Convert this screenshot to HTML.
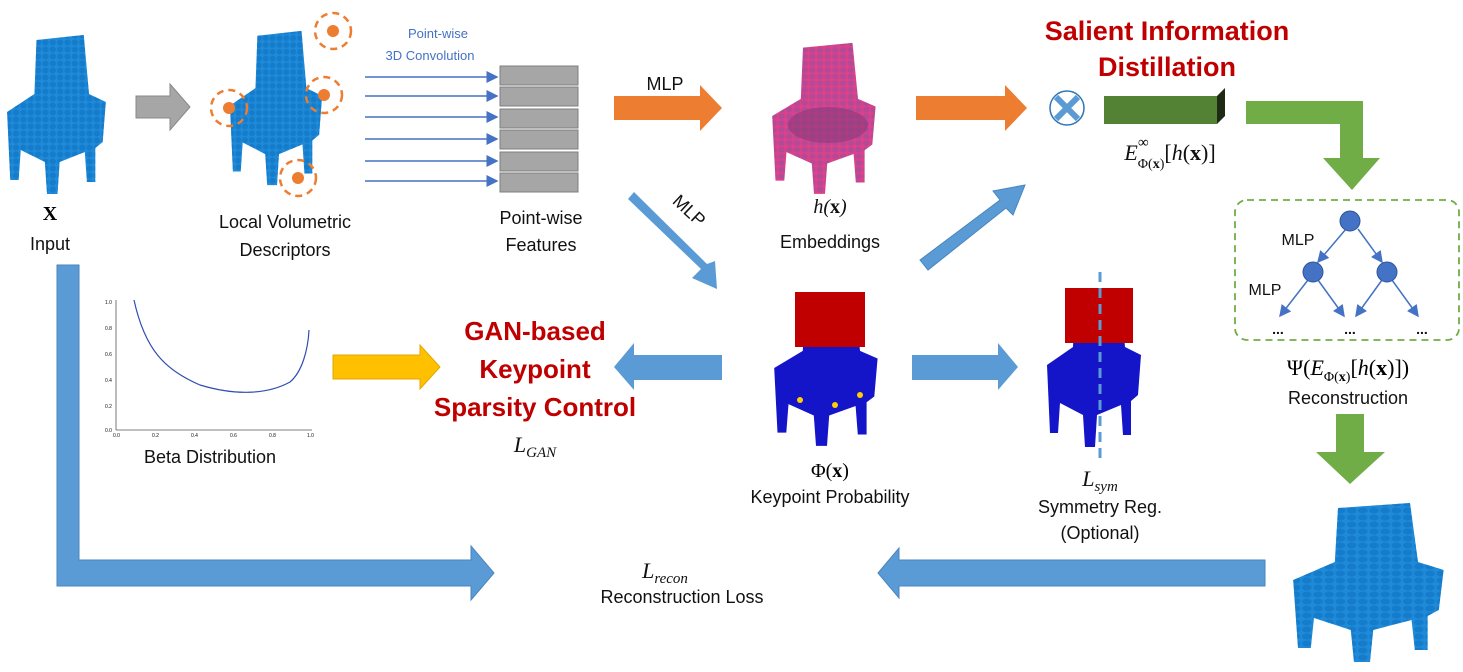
<!DOCTYPE html>
<html><head><meta charset="utf-8"><style>
html,body{margin:0;padding:0;background:#fff;}
svg{display:block}
.s{font-family:"Liberation Sans",sans-serif;fill:#111;}
.m{font-family:"Liberation Serif",serif;fill:#111;font-style:italic}
.r{font-family:"Liberation Sans",sans-serif;fill:#c00000;font-weight:bold}
</style></head><body>
<svg width="1463" height="672" viewBox="0 0 1463 672" xmlns="http://www.w3.org/2000/svg">
<defs>
<path id="chair" d="M30,8 L75,3 L80,62 L96,70 L93,110 L86,116 L86,150 L78,150 L76,120 L52,130 L50,162 L40,162 L38,130 L15,118 L13,148 L5,148 L2,80 L28,62 Z"/>
<pattern id="dots" width="7" height="7" patternUnits="userSpaceOnUse"><circle cx="3.5" cy="3.5" r="3" fill="#0d6fc0" opacity="0.55"/></pattern>
<marker id="ah" markerWidth="8" markerHeight="8" refX="7" refY="4" orient="auto"><path d="M0,0 L8,4 L0,8 Z" fill="#4472c4"/></marker>
</defs>

<g transform="translate(5,32) scale(1.05,1.0)"><use href="#chair" fill="#1e8ad8"/><use href="#chair" fill="url(#dots)"/></g>
<path d="M136,96 L170,96 L170,84 L190,107 L170,130 L170,118 L136,118 Z" fill="#a6a6a6" stroke="#888" stroke-width="1"/>
<g transform="translate(228,28) scale(0.98,0.97)"><use href="#chair" fill="#1e8ad8"/><use href="#chair" fill="url(#dots)"/></g>
<g fill="#ed7d31"><circle cx="229" cy="108" r="6"/><circle cx="333" cy="31" r="6"/><circle cx="324" cy="95" r="6"/><circle cx="298" cy="178" r="6"/></g>
<g fill="none" stroke="#ed7d31" stroke-width="2.5" stroke-dasharray="7,5"><circle cx="229" cy="108" r="18"/><circle cx="333" cy="31" r="18"/><circle cx="324" cy="95" r="18"/><circle cx="298" cy="178" r="18"/></g>
<text x="438" y="38" class="s" font-size="13" style="fill:#4472c4" text-anchor="middle">Point-wise</text>
<text x="430" y="60" class="s" font-size="13" style="fill:#4472c4" text-anchor="middle">3D Convolution</text>
<g stroke="#4472c4" stroke-width="1.5" marker-end="url(#ah)">
<line x1="365" y1="77" x2="497" y2="77"/><line x1="365" y1="96" x2="497" y2="96"/><line x1="365" y1="117" x2="497" y2="117"/><line x1="365" y1="139" x2="497" y2="139"/><line x1="365" y1="161" x2="497" y2="161"/><line x1="365" y1="181" x2="497" y2="181"/>
</g>
<g fill="#a6a6a6" stroke="#7f7f7f" stroke-width="1">
<rect x="500" y="66" width="78" height="19"/><rect x="500" y="87" width="78" height="19"/><rect x="500" y="109" width="78" height="19"/><rect x="500" y="130" width="78" height="19"/><rect x="500" y="152" width="78" height="19"/><rect x="500" y="173" width="78" height="19"/>
</g>
<text x="50" y="220" font-family="Liberation Serif,serif" font-weight="bold" font-size="20" text-anchor="middle">X</text>
<text x="50" y="250" class="s" font-size="18" text-anchor="middle">Input</text>
<text x="285" y="228" class="s" font-size="18" text-anchor="middle">Local Volumetric</text>
<text x="285" y="256" class="s" font-size="18" text-anchor="middle">Descriptors</text>
<text x="541" y="224" class="s" font-size="18" text-anchor="middle">Point-wise</text>
<text x="541" y="251" class="s" font-size="18" text-anchor="middle">Features</text>
<text x="665" y="90" class="s" font-size="18" text-anchor="middle">MLP</text>
<path d="M614,96 L700,96 L700,85 L722,108 L700,131 L700,120 L614,120 Z" fill="#ed7d31"/>
<text x="685" y="215" class="s" font-size="18" text-anchor="middle" transform="rotate(43 685 215)">MLP</text>
<path d="M633,196 L706,266 L697,275 L722,286 L720,258 L712,261 L639,189 Z" fill="#5b9bd5" transform="translate(-5,3)"/>
<g transform="translate(770,40) scale(1.1,0.95)"><use href="#chair" fill="#e0408a"/><use href="#chair" fill="url(#dots)" opacity="0.4"/></g>
<ellipse cx="828" cy="125" rx="40" ry="18" fill="#8a3a7a" opacity="0.6"/>
<text x="830" y="213" class="m" font-size="20" text-anchor="middle">h(<tspan font-weight="bold" font-style="normal">x</tspan>)</text>
<text x="830" y="248" class="s" font-size="18" text-anchor="middle">Embeddings</text>
<path d="M916,96 L1005,96 L1005,85 L1027,108 L1005,131 L1005,120 L916,120 Z" fill="#ed7d31"/>
<circle cx="1067" cy="108" r="17" fill="#fff" stroke="#2e75b6" stroke-width="1.5"/>
<path d="M1056,97 L1078,119 M1078,97 L1056,119" stroke="#5b9bd5" stroke-width="6"/>
<text x="1167" y="40" class="r" font-size="27" text-anchor="middle">Salient Information</text>
<text x="1167" y="76" class="r" font-size="27" text-anchor="middle">Distillation</text>
<rect x="1104" y="96" width="113" height="28" fill="#548235"/>
<path d="M1217,96 L1225,88 L1225,116 L1217,124 Z" fill="#1e2a14"/>
<text x="1170" y="160" class="m" font-size="22" text-anchor="middle">E<tspan font-size="14" dy="8" font-style="normal">Φ(<tspan font-weight="bold">x</tspan>)</tspan><tspan dy="-8" font-style="normal">[</tspan>h<tspan font-style="normal">(<tspan font-weight="bold">x</tspan>)]</tspan></text>
<text x="1138" y="147" font-family="Liberation Serif,serif" font-size="15">∞</text>
<path d="M1246,101 L1363,101 L1363,158 L1380,158 L1352,190 L1323,158 L1340,158 L1340,124 L1246,124 Z" fill="#70ad47"/>
<rect x="1235" y="200" width="224" height="140" rx="12" fill="none" stroke="#70ad47" stroke-width="1.8" stroke-dasharray="7,5"/>
<g stroke="#4472c4" stroke-width="1.5" marker-end="url(#ah)">
<line x1="1346" y1="229" x2="1318" y2="262"/><line x1="1358" y1="229" x2="1382" y2="262"/>
<line x1="1308" y1="280" x2="1280" y2="316"/><line x1="1318" y1="280" x2="1344" y2="316"/>
<line x1="1382" y1="280" x2="1356" y2="316"/><line x1="1392" y1="280" x2="1418" y2="316"/>
</g>
<g fill="#4472c4" stroke="#2f5597"><circle cx="1350" cy="221" r="10"/><circle cx="1313" cy="272" r="10"/><circle cx="1387" cy="272" r="10"/></g>
<text x="1298" y="245" class="s" font-size="16" text-anchor="middle">MLP</text>
<text x="1265" y="295" class="s" font-size="16" text-anchor="middle">MLP</text>
<g class="s" font-size="14" font-weight="bold" text-anchor="middle"><text x="1278" y="334">...</text><text x="1350" y="334">...</text><text x="1422" y="334">...</text></g>
<text x="1348" y="375" font-family="Liberation Serif,serif" font-size="22" text-anchor="middle">Ψ(<tspan font-style="italic">E</tspan><tspan font-size="14" dy="6">Φ(<tspan font-weight="bold">x</tspan>)</tspan><tspan dy="-6">[<tspan font-style="italic">h</tspan>(<tspan font-weight="bold">x</tspan>)])</tspan></text>
<text x="1348" y="404" class="s" font-size="18" text-anchor="middle">Reconstruction</text>
<path d="M1336,414 L1364,414 L1364,452 L1385,452 L1350,484 L1316,452 L1336,452 Z" fill="#70ad47"/>
<g transform="translate(1290,500) scale(1.6,1.0)"><use href="#chair" fill="#1e8ad8"/><use href="#chair" fill="url(#dots)"/></g>
<path d="M920,260 L1000,200 L993,191 L1025,185 L1013,215 L1006,208 L928,270 Z" fill="#5b9bd5" stroke="#4a86c0" stroke-width="1"/>
<g stroke="#555" stroke-width="0.8" fill="none"><line x1="116" y1="300" x2="116" y2="430"/><line x1="116" y1="430" x2="312" y2="430"/></g>
<g class="s" font-size="5" fill="#555">
<text x="105" y="304">1.0</text><text x="105" y="330">0.8</text><text x="105" y="356">0.6</text><text x="105" y="382">0.4</text><text x="105" y="408">0.2</text><text x="105" y="432">0.0</text>
<text x="113" y="437">0.0</text><text x="152" y="437">0.2</text><text x="191" y="437">0.4</text><text x="230" y="437">0.6</text><text x="269" y="437">0.8</text><text x="307" y="437">1.0</text></g>
<path d="M134,300 C145,350 165,370 200,385 C240,397 270,393 290,382 C302,372 308,350 309,330" fill="none" stroke="#2f4fb0" stroke-width="1.2"/>
<text x="210" y="463" class="s" font-size="18" text-anchor="middle">Beta Distribution</text>
<path d="M333,355 L420,355 L420,345 L440,367 L420,389 L420,379 L333,379 Z" fill="#ffc000" stroke="#e0a800"/>
<text x="535" y="340" class="r" font-size="26" text-anchor="middle">GAN-based</text>
<text x="535" y="378" class="r" font-size="26" text-anchor="middle">Keypoint</text>
<text x="535" y="416" class="r" font-size="26" text-anchor="middle">Sparsity Control</text>
<text x="535" y="452" class="m" font-size="22" text-anchor="middle">L<tspan font-size="15" dy="5">GAN</tspan></text>
<path d="M722,355 L634,355 L634,343 L614,367 L634,390 L634,380 L722,380 Z" fill="#5b9bd5"/>
<g transform="translate(772,292) scale(1.1,0.95)"><use href="#chair" fill="#1414c8"/></g>
<rect x="795" y="292" width="70" height="55" fill="#c00000"/>
<g fill="#ffd000"><circle cx="800" cy="400" r="3"/><circle cx="835" cy="405" r="3"/><circle cx="860" cy="395" r="3"/></g>
<text x="830" y="477" font-family="Liberation Serif,serif" font-size="20" text-anchor="middle">Φ(<tspan font-weight="bold">x</tspan>)</text>
<text x="830" y="503" class="s" font-size="18" text-anchor="middle">Keypoint Probability</text>
<path d="M912,355 L998,355 L998,343 L1018,367 L998,390 L998,380 L912,380 Z" fill="#5b9bd5"/>
<g transform="translate(1045,285)"><use href="#chair" fill="#1414c8"/></g>
<rect x="1065" y="288" width="68" height="55" fill="#c00000"/>
<line x1="1100" y1="272" x2="1100" y2="462" stroke="#5b9bd5" stroke-width="3" stroke-dasharray="10,6"/>
<text x="1100" y="486" class="m" font-size="22" text-anchor="middle">L<tspan font-size="15" dy="5">sym</tspan></text>
<text x="1100" y="513" class="s" font-size="18" text-anchor="middle">Symmetry Reg.</text>
<text x="1100" y="539" class="s" font-size="18" text-anchor="middle">(Optional)</text>
<path d="M57,265 L79,265 L79,560 L471,560 L471,546 L494,573 L471,600 L471,586 L57,586 Z" fill="#5b9bd5" stroke="#4a86c0" stroke-width="1"/>
<text x="665" y="578" class="m" font-size="22" text-anchor="middle">L<tspan font-size="15" dy="5">recon</tspan></text>
<text x="682" y="603" class="s" font-size="18" text-anchor="middle">Reconstruction Loss</text>
<path d="M1265,560 L899,560 L899,548 L878,573 L899,598 L899,586 L1265,586 Z" fill="#5b9bd5" stroke="#4a86c0" stroke-width="1"/>
</svg>
</body></html>
